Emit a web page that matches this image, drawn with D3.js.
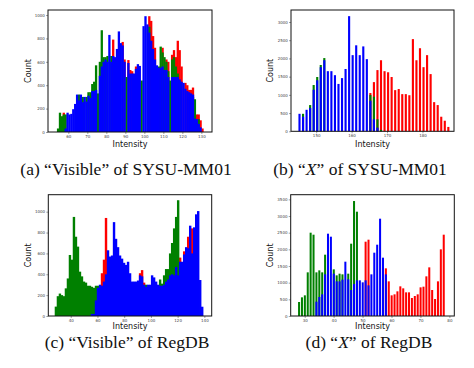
<!DOCTYPE html>
<html><head><meta charset="utf-8">
<script src="https://cdn.jsdelivr.net/npm/d3@7"></script>
<style>body{margin:0;background:#fff}</style>
</head><body><svg id="c" width="474" height="368"></svg>
<script>
// ---------- (a) "Visible" of SYSU-MM01 : bins of width 1 ----------
const binsA = [54,55,56,57,58,59,60,61,62,63,64,65,66,67,68,69,70,71,72,73,74,75,76,77,78,79,80,81,82,83,84,85,86,87,88,89,90,91,92,93,94,95,96,97,98,99,100,101,102,103,104,105,106,107,108,109,110,111,112,113,114,115,116,117,118,119,120,121,122,123,124,125,126,127,128,129,130];
const blueA  = [0,0,0,0,30,165,150,155,195,240,320,270,320,255,300,260,310,290,350,350,360,0,480,560,600,620,600,830,600,650,640,710,860,760,740,600,0,590,500,500,500,540,580,565,0,905,990,920,850,780,710,620,570,550,550,560,530,530,470,0,470,470,470,470,450,430,420,370,350,340,330,320,115,110,70,40,0];
const greenA = [30,165,135,150,150,0,0,0,0,0,0,320,0,300,0,300,340,340,410,430,570,330,600,870,640,640,650,0,650,0,0,0,0,0,0,0,470,0,0,0,0,0,0,0,440,0,0,0,900,0,0,0,0,560,730,680,640,600,520,440,620,640,560,500,430,0,0,0,0,0,0,300,280,0,110,0,0];
const redA   = [0,0,0,165,0,0,0,0,0,0,0,0,0,0,0,0,0,0,0,0,0,0,0,0,0,0,0,0,0,790,0,0,0,0,770,620,0,615,530,520,0,560,0,0,0,0,0,0,990,950,820,720,0,0,0,720,0,620,600,0,660,700,640,780,700,560,0,420,400,360,360,380,0,150,150,100,30];
const xTicksA = [60,70,80,90,100,110,120,130];
const yTicksA = [0,200,400,600,800,1000];

// ---------- (b) "X" of SYSU-MM01 : one bar per intensity ----------
const binsB = [145,146,147,148,149,150,151,152,153,154,155,156,157,158,159,160,161,162,163,164,165,166,167,168,169,170,171,172,173,174,175,176,177,178,179,180,181,182,183,184,185,186,187];
const blueB  = [480,400,590,640,1140,1400,1760,1950,1650,1650,1540,1300,1460,1710,3160,2090,2360,2090,2330,1980,840,330,100,0,0,0,0,0,0,0,0,0,0,0,0,0,0,0,0,0,0,0,0];
const greenB = [0,480,0,720,1270,1490,1820,2010,0,0,0,0,0,0,0,0,0,0,0,0,1000,950,330,40,0,0,0,0,0,0,0,0,0,0,0,0,0,0,0,0,0,0,0];
const redB   = [0,0,0,0,0,0,0,0,0,0,0,0,0,0,0,0,0,0,0,0,1050,1350,1680,1950,1650,1620,1490,1130,1160,1020,1020,990,2530,1950,2280,1760,2090,1570,800,720,400,290,120];
const xTicksB = [150,160,170,180];
const yTicksB = [0,500,1000,1500,2000,2500,3000];

// ---------- (c) "Visible" of RegDB : bins of width 1.5 ----------
const binsC = [28,29.5,31,32.5,34,35.5,37,38.5,40,41.5,43,44.5,46,47.5,49,50.5,52,53.5,55,56.5,58,59.5,61,62.5,64,65.5,67,68.5,70,71.5,73,74.5,76,77.5,79,80.5,82,83.5,85,86.5,88,89.5,91,92.5,94,95.5,97,98.5,100,101.5,103,104.5,106,107.5,109,110.5,112,113.5,115,116.5,118,119.5,121,122.5,124,125.5,127,128.5,130,131.5,133,134.5,136,137.5];
const blueC  = [0,0,0,0,0,0,0,0,0,0,0,0,0,0,0,0,0,0,20,20,150,270,300,290,330,400,630,570,580,900,740,660,580,550,510,490,520,410,330,330,330,340,390,380,300,280,300,300,390,370,330,300,290,290,300,330,350,390,400,390,470,390,520,520,590,660,650,866,600,850,975,1006,345,89];
const greenC = [90,190,215,200,190,265,360,585,540,950,760,665,425,380,330,320,290,290,280,270,290,290,0,0,0,0,0,0,0,0,0,0,0,0,0,0,0,0,0,0,0,0,0,0,0,300,0,0,0,0,0,0,350,310,390,450,450,600,700,840,950,1110,0,0,0,0,0,0,0,0,0,0,0,0];
const redC   = [0,0,0,0,0,0,0,0,0,0,0,0,0,0,0,0,0,0,0,0,0,0,0,410,540,940,0,0,0,0,0,0,0,0,0,0,0,0,0,0,0,0,410,440,320,0,0,0,0,0,0,0,0,0,0,0,0,0,0,0,0,0,560,0,620,0,760,0,840,0,0,0,0,0];
const xTicksC = [40,60,80,100,120,140];
const yTicksC = [0,200,400,600,800,1000];

// ---------- (d) "X" of RegDB : one bar per intensity ----------
const binsD = [28,29,30,31,32,33,34,35,36,37,38,39,40,41,42,43,44,45,46,47,48,49,50,51,52,53,54,55,56,57,58,59,60,61,62,63,64,65,66,67,68,69,70,71,72,73,74,75,76,77,78];
const blueD  = [0,0,0,0,0,0,430,570,650,1250,2470,2380,1270,1040,1040,1090,1630,1100,780,960,1070,1070,1010,1070,920,1250,1900,2140,2920,1750,1250,0,0,0,0,0,0,0,0,0,0,0,0,0,0,0,0,0,0,0,0];
const greenD = [420,560,620,1310,2500,2440,1310,1370,1310,1840,0,0,1400,1220,1270,1250,0,1270,2170,3450,3130,0,0,0,0,0,0,0,0,0,0,0,0,0,0,0,0,0,0,0,0,0,0,0,0,0,0,0,0,0,0];
const redD   = [0,0,0,0,0,0,0,0,0,0,0,0,0,0,0,0,0,0,0,0,0,0,0,2230,2290,0,0,0,0,0,1430,1040,620,650,740,890,830,710,710,540,600,650,860,880,1190,1460,780,510,1040,2000,2440];
const xTicksD = [30,40,50,60,70,80];
const yTicksD = [0,500,1000,1500,2000,2500,3000,3500];

const svg = d3.select('#c');
svg.append('rect').attr('width',474).attr('height',368).attr('fill','#fff');

function panel(o){
  const x = d3.scaleLinear().domain(o.xDomain).range([o.left, o.right]);
  const y = d3.scaleLinear().domain([0, o.yMax]).range([o.bottom, o.top]);
  const g = svg.append('g');
  const series = [[o.red,'#ff0000'],[o.green,'#008000'],[o.blue,'#0000ff']];
  series.forEach(([vals,col])=>{
    g.selectAll(null)
      .data(o.bins.map((b,i)=>({b:b, v:vals[i]})).filter(d=>d.v>0))
      .enter().append('rect')
      .attr('x', d=> x(d.b + o.off))
      .attr('width', d=> x(d.b + o.off + o.w) - x(d.b + o.off) + o.pad)
      .attr('y', d=> y(d.v))
      .attr('height', d=> y(0) - y(d.v))
      .attr('fill', col);
  });
  const fmt = d3.format('d');
  const ax = g.append('g').attr('transform',`translate(0,${o.bottom})`)
    .call(d3.axisBottom(x).tickValues(o.xTicks).tickFormat(fmt).tickSize(2).tickPadding(1.2));
  const ay = g.append('g').attr('transform',`translate(${o.left},0)`)
    .call(d3.axisLeft(y).tickValues(o.yTicks).tickFormat(fmt).tickSize(2).tickPadding(1.2));
  [ax, ay].forEach(a=>{
    a.attr('font-size',4).attr('font-family','DejaVu Sans');
    a.select('.domain').remove();
    a.selectAll('text').attr('fill','#444');
    a.selectAll('line').attr('stroke','#444').attr('stroke-width',0.5);
  });
  g.append('rect').attr('x',o.left).attr('y',o.top)
    .attr('width',o.right-o.left).attr('height',o.bottom-o.top)
    .attr('fill','none').attr('stroke','#111').attr('stroke-width',1);
  g.append('text').attr('x',o.ylabX).attr('y',(o.top+o.bottom)/2)
    .attr('transform',`rotate(-90,${o.ylabX},${(o.top+o.bottom)/2})`)
    .attr('text-anchor','middle').attr('font-family','DejaVu Sans').attr('font-size',8)
    .attr('fill','#111').text('Count');
  g.append('text').attr('x',(o.left+o.right)/2).attr('y',o.xlabY)
    .attr('text-anchor','middle').attr('font-family','DejaVu Sans').attr('font-size',8)
    .attr('fill','#111').text('Intensity');
}

panel({bins:binsA, blue:blueA, green:greenA, red:redA, xTicks:xTicksA, yTicks:yTicksA,
  left:48, right:212, top:10, bottom:132, xDomain:[49.3,135.6], yMax:1043, off:0, w:1, pad:0.4,
  ylabX:31, xlabY:146.5});
panel({bins:binsB, blue:blueB, green:greenB, red:redB, xTicks:xTicksB, yTicks:yTicksB,
  left:291, right:454, top:10, bottom:131.3, xDomain:[142.9,188.9], yMax:3329, off:0, w:0.6, pad:0,
  ylabX:273, xlabY:146.5});
panel({bins:binsC, blue:blueC, green:greenC, red:redC, xTicks:xTicksC, yTicks:yTicksC,
  left:48.3, right:211.7, top:194.7, bottom:316, xDomain:[23.2,145.5], yMax:1163, off:0, w:1.5, pad:0.4,
  ylabX:31, xlabY:329});
panel({bins:binsD, blue:blueD, green:greenD, red:redD, xTicks:xTicksD, yTicks:yTicksD,
  left:290.7, right:454.3, top:194.7, bottom:316, xDomain:[25.16,81.7], yMax:3640, off:-0.3, w:0.7, pad:0,
  ylabX:273, xlabY:329});

function caption(cx, cy, parts){
  const t = svg.append('text').attr('x',cx).attr('y',cy).attr('text-anchor','middle')
    .attr('font-family','Liberation Serif').attr('font-size',17.5).attr('fill','#111');
  parts.forEach(p=>{ const s = t.append('tspan').text(p[0]); if(p[1]) s.attr('font-style','italic'); });
}
caption(126, 175, [['(a) “Visible” of SYSU-MM01']]);
caption(360, 175, [['(b) “'],['X',true],['” of SYSU-MM01']]);
caption(127, 347.5, [['(c) “Visible” of RegDB']]);
caption(369, 347.5, [['(d) “'],['X',true],['” of RegDB']]);
</script></body></html>
